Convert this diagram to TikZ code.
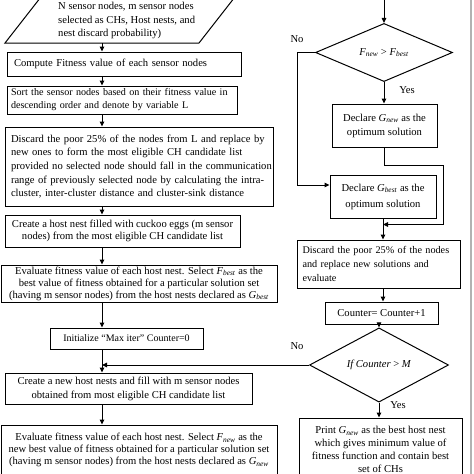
\documentclass[tikz,border=0pt]{standalone}
\usepackage{fontspec}
\setmainfont{Liberation Serif}
\usetikzlibrary{arrows.meta,shapes.geometric,calc}
\newcommand{\vs}[2]{\textit{#1}\textsubscript{\textit{#2}}}
\newcommand{\jl}[1]{\makebox[256pt][s]{#1}}
\begin{document}
\begin{tikzpicture}[x=1pt,y=-1pt,
  font=\fontsize{10.6pt}{12.8pt}\selectfont,
  box/.style={draw, line width=1pt, inner sep=0pt, align=center},
  lbox/.style={draw, line width=1pt, inner ysep=0pt, align=left},
  dia/.style={draw, diamond, line width=1pt, inner sep=0pt, align=center},
  arr/.style={line width=1pt, -{Triangle[length=5pt,width=4.5pt]}},
  ln/.style={line width=1pt},
  lbl/.style={inner sep=0pt}]
\useasboundingbox (0,0) rectangle (474,474);
\fill[white] (0,0) rectangle (474,474);
\clip (0,0) rectangle (474,474);

% ---------- left column ----------
\draw[ln] (5,43) -- (199,43) -- (256,-30) -- (62,-30) -- cycle;
\node[lbl, anchor=west, align=left, font=\fontsize{10.6pt}{13.5pt}\selectfont] (para) at (58,20.5)
  {N sensor nodes, m sensor nodes\\selected as CHs, Host nests, and\\nest discard probability)};
\coordinate (pb) at (102,43);
\coordinate (mx) at (102,0);

\node[lbox, minimum width=234pt, minimum height=24pt, inner xsep=7pt, text width=220pt] (b1) at (124,64)
  {Compute Fitness value of each sensor nodes};
\node[lbox, minimum width=230pt, minimum height=28pt, inner xsep=4pt, text width=222pt,
  font=\fontsize{10.1pt}{13pt}\selectfont] (b2) at (122,100)
  {Sort the sensor nodes based on their fitness value in\\descending order and denote by variable L};
\node[lbox, minimum width=268pt, minimum height=79pt, inner xsep=6pt, text width=256pt,
  font=\fontsize{10.6pt}{13.7pt}\selectfont] (b3) at (139,166.5)
  {\jl{Discard the poor 25\% of the nodes from L and replace by}\\
   \jl{new ones to form the most eligible CH candidate list}\\
   \jl{provided no selected node should fall in the communication}\\
   \jl{range of previously selected node by calculating the intra-}\\
   cluster, inter-cluster distance and cluster-sink distance};
\node[box, minimum width=235pt, minimum height=32pt, font=\fontsize{10.6pt}{11.5pt}\selectfont] (b4) at (122.5,231)
  {Create a host nest filled with cuckoo eggs (m sensor\\nodes) from the most eligible CH candidate list};
\node[box, minimum width=276pt, minimum height=37pt, font=\fontsize{10.6pt}{12pt}\selectfont] (b5) at (139,283.5)
  {Evaluate fitness value of each host nest. Select \vs{F}{best} as the\\
   best value of fitness obtained for a particular solution set\\
   (having m sensor nodes) from the host nests declared as \vs{G}{best}};
\node[box, minimum width=153pt, minimum height=21pt, font=\fontsize{10pt}{12pt}\selectfont] (b6) at (126.5,338.5)
  {Initialize “Max iter” Counter=0};
\node[box, minimum width=247pt, minimum height=31pt, font=\fontsize{10.6pt}{14pt}\selectfont] (b7) at (128.5,388.5)
  {Create a new host nests and fill with m sensor nodes\\obtained from most eligible CH candidate list};
\node[box, minimum width=276pt, minimum height=50pt, font=\fontsize{10.6pt}{12pt}\selectfont] (b8) at (139,450)
  {Evaluate fitness value of each host nest. Select \vs{F}{new} as the\\
   new best value of fitness obtained for a particular solution set\\
   (having m sensor nodes) from the host nests declared as \vs{G}{new}};

\draw[arr] (pb) -- (b1.north -| pb);
\draw[arr] (b1.south -| mx) -- (b2.north -| mx);
\draw[arr] (b2.south -| mx) -- (b3.north -| mx);
\draw[arr] (b3.south -| mx) -- (b4.north -| mx);
\draw[arr] (b4.south -| mx) -- (b5.north -| mx);
\draw[arr] (b5.south -| mx) -- (b6.north -| mx);
\draw[arr] (b6.south -| mx) -- (b7.north -| mx);
\draw[arr] (b7.south -| mx) -- (b8.north -| mx);

% ---------- right column ----------
\coordinate (rt) at (384,0);
\node[dia, minimum width=137pt, minimum height=55pt] (d1) at (384,52.5) {\vs{F}{new} > \vs{F}{best}};
\node[box, minimum width=105pt, minimum height=43pt, font=\fontsize{10.6pt}{14pt}\selectfont] (gnew) at (384.5,125.5)
  {Declare \vs{G}{new} as the\\optimum solution};
\node[box, minimum width=106pt, minimum height=43pt, font=\fontsize{10.6pt}{16pt}\selectfont] (gbest) at (383,196.5)
  {Declare \vs{G}{best} as the\\optimum solution};
\node[lbox, minimum width=163pt, minimum height=48pt, inner xsep=5pt, text width=153pt,
  font=\fontsize{10.2pt}{14pt}\selectfont] (disc) at (379,264)
  {Discard the poor 25\% of the nodes\\and replace new solutions and\\evaluate};
\node[box, minimum width=113pt, minimum height=22pt] (cnt) at (381.5,313) {Counter= Counter+1};
\node[dia, minimum width=139pt, minimum height=56pt] (d2) at (379,365) {\textit{If Counter} > \textit{M}};
\node[box, minimum width=163pt, minimum height=63pt, font=\fontsize{10.6pt}{13pt}\selectfont] (prn) at (380.5,449.5)
  {Print \vs{G}{new} as the best host nest\\which gives minimum value of\\fitness function and contain best\\set of CHs};

\node[lbl] (no1) at (297,39) {No};
\node[lbl] (yes1) at (407,90) {Yes};
\node[lbl] (no2) at (297,346) {No};
\node[lbl] (yes2) at (398,405) {Yes};

\coordinate (jn) at ($(gbest.south)+(0,6)$);
\draw[arr] (rt) -- (d1.north);
\draw[arr] (d1.south) -- (d1.south |- gnew.north);
\draw[arr] (d1.west) -- ++(-18,0) |- ($(gbest.west)+(0,-11.5)$);
\draw[arr] (gnew.south) -- ++(0,18) -- ++(59,0) |- (jn);
\draw[arr] (gbest.south) -- (gbest.south |- disc.north);
\draw[arr] (gbest.south |- disc.south) -- (gbest.south |- cnt.north);
\draw[arr] (cnt.south -| d2.north) -- (d2.north);
\draw[arr] (d2.south) -- (d2.south |- prn.north);
\draw[arr] (d2.west) -- (d2.west -| mx);

% scan edge
\draw[gray!60, line width=1.5pt] (471,-5) -- (471,480);
\end{tikzpicture}
\end{document}
